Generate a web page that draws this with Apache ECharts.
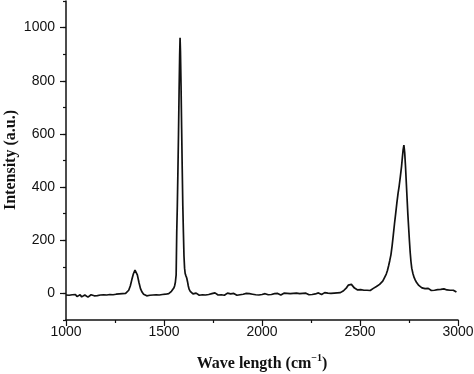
<!DOCTYPE html>
<html>
<head>
<meta charset="utf-8">
<script src="https://cdn.jsdelivr.net/npm/echarts@6/dist/echarts.min.js"></script>
<style>
html,body{margin:0;padding:0;background:#fff;}
#chart{width:474px;height:374px;}
</style>
</head>
<body>
<div id="chart"></div>
<script>
// Raman spectrum
const waveNumber = [
1000,1008,1016,1024,1032,1040,1048,1056,1064,1072,1080,1088,1096,1104,1112,1120,1128,1136,1144,1152,1160,1168,1176,1184,1192,1200,1208,1216,1224,1232,1240,1248,1256,1264,1272,1280,1288,1296,
1304,1312,1320,1328,1336,1344,1352,1358,1364,1372,1380,1388,1396,1404,
1412,1420,1428,1436,1444,1452,1460,1468,1476,1484,1492,1500,1508,1516,1524,1532,1538,
1544,1550,1554,1558,1562,1565,1568,1571,1574,1577,1580,1582,1584,1587,1590,1593,1596,1599,1602,1605,1608,1612,1616,1620,1624,1628,1634,1640,
1648,1656,1664,1672,1680,1688,1696,1704,1712,1720,1728,1736,1744,1752,1760,1768,1776,1784,1792,1800,1808,1816,1824,1832,1840,1848,1856,1864,1872,1880,1888,1896,1904,1912,1920,1928,1936,1944,1952,1960,1968,1976,1984,1992,
2000,2008,2016,2024,2032,2040,2048,2056,2064,2072,2080,2088,2096,2104,2112,2120,2128,2136,2144,2152,2160,2168,2176,2184,2192,2200,2208,2216,2224,2232,2240,2248,2256,2264,2272,2280,2288,2296,2304,2312,2320,2328,2336,2344,2352,2360,2368,2376,2384,2392,2400,
2408,2416,2424,2432,2440,2448,2456,2464,2472,2480,2488,2496,2504,2512,2520,2528,2536,2544,2552,2560,2568,2576,2584,2592,2600,
2604,2610,2616,2622,2628,2634,2640,2646,2652,2658,2664,2670,2676,2682,2688,2694,2700,2706,2712,2716,2720,2724,2728,2732,2736,2740,2744,2748,2752,2756,2760,2764,2770,2776,2782,2788,2794,2800,
2808,2816,2824,2832,2840,2848,2856,2864,2872,2880,2888,2896,2904,2912,2920,2928,2936,2944,2952,2960,2968,2976,2984,2992
];
const intensity = [
-6,-12,-7,-13,-5,-10,-4,-12,-7,-5,-13,-8,-6,-11,-14,-7,-5,-11,-9,-4,-8,-12,-6,-10,-5,-11,-6,-9,-4,-10,-5,-9,-3,-8,-2,-7,-1,-5,
0,4,12,28,52,74,88,84,70,42,18,5,-3,-6,
-9,-2,-7,-1,-6,0,-5,-1,-6,0,-4,1,-3,3,-1,6,8,
12,20,28,42,70,230,330,460,600,760,900,962,910,780,620,470,330,230,140,95,75,66,58,44,28,16,8,3,
-2,-6,1,-4,-7,0,-5,-1,-6,1,-4,-7,-1,-5,2,-4,-6,0,-5,-1,-7,-3,1,-5,-2,-6,0,-4,-7,-1,-5,1,-3,-6,0,-5,-1,-7,-3,1,-5,-1,-6,0,
-4,-6,-1,1,-5,0,-4,-7,-1,-5,0,-4,-6,-1,1,-4,0,-5,-1,-6,0,-4,1,-5,-1,-6,0,-4,1,-2,-5,0,-4,1,-2,-5,2,-1,-4,1,3,10,1,8,0,4,1,5,2,7,3,
7,10,15,22,31,38,34,29,20,18,13,11,14,8,12,7,12,14,11,17,19,23,26,31,34,
36,41,46,55,62,73,86,104,124,146,180,220,262,300,340,375,405,440,478,510,540,558,530,480,420,360,300,250,200,155,120,95,75,60,50,42,37,30,
27,21,25,18,17,19,13,11,16,12,8,14,10,15,11,17,19,13,18,12,9,12,6,5
];
const xTickLabels = [1000,1500,2000,2500,3000];
const yTickLabels = [0,200,400,600,800,1000];
const yMinorTicks = [-100,0,100,200,300,400,500,600,700,800,900,1000,1100];
const xTitle = 'Wave length (cm';
const yTitle = 'Intensity (a.u.)';

const points = waveNumber.map((x,i)=>[x,intensity[i]]);

const chart = echarts.init(document.getElementById('chart'), null, {renderer:'canvas'});
const serif = '"Liberation Serif", "Times New Roman", serif';
const labelStyle = {color:'#111', fontFamily:'"Liberation Sans", Arial, sans-serif', fontSize:14, formatter:(v)=>String(v)};
chart.setOption({
  animation:false,
  backgroundColor:'#fff',
  grid:{left:66, right:16, top:1, bottom:54, containLabel:false, outerBoundsMode:'none'},
  graphic:[{
    type:'text', x:11, y:160, rotation:Math.PI/2,
    style:{text:yTitle, fill:'#111', font:'bold 16px ' + serif, align:'center', verticalAlign:'middle'}
  }],
  xAxis:{
    type:'value', min:1000, max:3000, interval:500,
    axisLine:{show:true, onZero:false, lineStyle:{color:'#111', width:1.5}},
    axisTick:{show:true, length:6, lineStyle:{color:'#111', width:1.2}},
    minorTick:{show:true, splitNumber:2, length:3, lineStyle:{color:'#111', width:1.2}},
    splitLine:{show:false},
    axisLabel:Object.assign({margin:5, customValues:xTickLabels, hideOverlap:false, showMinLabel:true, showMaxLabel:true}, labelStyle),
    name:'{a|' + xTitle + '}{s|−1}{a|)}',
    nameLocation:'middle', nameGap:33,
    nameTextStyle:{
      rich:{
        a:{fontFamily:serif, fontWeight:'bold', fontSize:16, color:'#111', verticalAlign:'bottom'},
        s:{fontFamily:serif, fontWeight:'bold', fontSize:10, color:'#111', verticalAlign:'top', padding:[0,0,9,0]}
      }
    }
  },
  yAxis:[{
    type:'value', min:-100, max:1100, interval:100,
    axisLine:{show:true, onZero:false, lineStyle:{color:'#111', width:1.5}},
    axisTick:{show:true, length:6, customValues:yTickLabels, lineStyle:{color:'#111', width:1.2}},
    splitLine:{show:false},
    axisLabel:Object.assign({margin:11, customValues:yTickLabels}, labelStyle)
  },{
    type:'value', min:-100, max:1100, interval:100, position:'left',
    axisLine:{show:false},
    axisTick:{show:true, length:3, customValues:yMinorTicks, lineStyle:{color:'#111', width:1.2}},
    axisLabel:{show:false},
    splitLine:{show:false}
  }],
  series:[{
    type:'line', data:points, yAxisIndex:0,
    showSymbol:false, symbol:'none',
    lineStyle:{color:'#111', width:1.7},
    clip:true
  }]
});
</script>
</body>
</html>
